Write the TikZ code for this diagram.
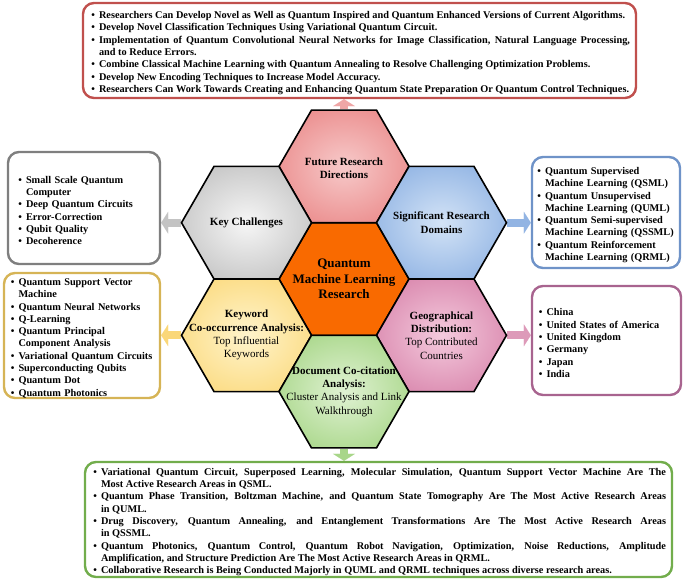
\documentclass[tikz,border=0pt]{standalone}
\usepackage{fontspec}
\setmainfont{Liberation Serif}
\usepackage{enumitem}
\usetikzlibrary{shapes.geometric,arrows.meta,backgrounds}
\setlist[itemize]{nosep,leftmargin=10pt,labelsep=4pt,label=\textbullet}

\definecolor{futin}{HTML}{F7CACA}
\definecolor{futout}{HTML}{E46A6A}
\definecolor{keyin}{HTML}{F6F6F6}
\definecolor{keyout}{HTML}{A9A9A9}
\definecolor{sigin}{HTML}{D3E3F6}
\definecolor{sigout}{HTML}{6E9BDA}
\definecolor{kwin}{HTML}{FFF4CC}
\definecolor{kwout}{HTML}{F9CD58}
\definecolor{geoin}{HTML}{F4CADD}
\definecolor{geoout}{HTML}{CB6494}
\definecolor{docin}{HTML}{E0F2D3}
\definecolor{docout}{HTML}{8BC862}
\definecolor{qmlorange}{HTML}{F96A00}
\definecolor{topred}{HTML}{C0504D}
\definecolor{chalgray}{HTML}{7F7F7F}
\definecolor{kwgold}{HTML}{D6B456}
\definecolor{sigblue}{HTML}{6F93C8}
\definecolor{geoplum}{HTML}{A8648F}
\definecolor{botgreen}{HTML}{72AD4C}

% light centre, darker rim
\newcommand{\hexshade}[3]{\pgfdeclareradialshading{#1}{\pgfpoint{0bp}{0bp}}{color(0bp)=(#2);color(46bp)=(#3);color(50bp)=(#3)}}
\hexshade{shfut}{futin}{futout}
\hexshade{shkey}{keyin}{keyout}
\hexshade{shsig}{sigin}{sigout}
\hexshade{shkw}{kwin}{kwout}
\hexshade{shgeo}{geoin}{geoout}
\hexshade{shdoc}{docin}{docout}

\begin{document}
\begin{tikzpicture}[x=1pt, y=-1pt,
    hexa/.style={regular polygon, regular polygon sides=6, minimum size=130pt, inner sep=0pt, draw=black, line width=1.6pt},
    hexlabel/.style={align=center, inner sep=0pt, font=\fontsize{11}{13.3}\selectfont},
    listbox/.style={rounded corners=11pt, line width=2.4pt, inner sep=0pt, fill=white, font=\fontsize{10.3}{12.3}\selectfont\bfseries},
    flow/.style={line width=8pt, -{Triangle[length=7pt,width=22pt,line width=0.1pt]}}]
    \useasboundingbox (0,0) rectangle (685,582);

    % hexagons
    \node[hexa, fill=qmlorange] (qml) at (344,279) {};
    \node[hexa, shading=shfut] (fut) at (344,166.4) {};
    \node[hexa, shading=shkey] (key) at (246.5,222.7) {};
    \node[hexa, shading=shsig] (sig) at (441.5,222.7) {};
    \node[hexa, shading=shkw] (kw) at (246.5,335.3) {};
    \node[hexa, shading=shgeo] (geo) at (441.5,335.3) {};
    \node[hexa, shading=shdoc] (doc) at (344,391.6) {};

    \node[hexlabel, font=\fontsize{13}{15.5}\selectfont\bfseries] (qmltxt) at (qml) {Quantum\\Machine Learning\\Research};
    \node[hexlabel, font=\fontsize{11}{13.3}\selectfont\bfseries] (futtxt) at (344,168.5) {Future Research\\Directions};
    \node[hexlabel, font=\fontsize{11}{13.3}\selectfont\bfseries] (keytxt) at (key) {Key Challenges};
    \node[hexlabel, font=\fontsize{11}{13.3}\selectfont\bfseries] (sigtxt) at (sig) {Significant Research\\Domains};
    \node[hexlabel] (kwtxt) at (kw) {\textbf{Keyword}\\\textbf{Co-occurrence Analysis:}\\Top Influential\\Keywords};
    \node[hexlabel] (geotxt) at (geo) {\textbf{Geographical}\\\textbf{Distribution:}\\Top Contributed\\Countries};
    \node[hexlabel] (doctxt) at (doc) {\textbf{Document Co-citation}\\\textbf{Analysis:}\\Cluster Analysis and Link\\Walkthrough};

    % boxes
    \node[listbox, draw=topred, minimum width=553pt, minimum height=95pt, text width=541pt, align=justify] (topbox) at (359.5,50.5) {%
      \begin{itemize}
      \item Researchers Can Develop Novel as Well as Quantum Inspired and Quantum Enhanced Versions of Current Algorithms.
      \item Develop Novel Classification Techniques Using Variational Quantum Circuit.
      \item Implementation of Quantum Convolutional Neural Networks for Image Classification, Natural Language Processing,\linebreak and to Reduce Errors.
      \item Combine Classical Machine Learning with Quantum Annealing to Resolve Challenging Optimization Problems.
      \item Develop New Encoding Techniques to Increase Model Accuracy.
      \item Researchers Can Work Towards Creating and Enhancing Quantum State Preparation Or Quantum Control Techniques.
      \end{itemize}};
    \node[listbox, draw=chalgray, minimum width=152pt, minimum height=112pt, text width=136pt, align=left] (chalbox) at (84,208) {%
      \begin{itemize}
      \item Small Scale Quantum\newline Computer
      \item Deep Quantum Circuits
      \item Error-Correction
      \item Qubit Quality
      \item Decoherence
      \end{itemize}};
    \node[listbox, draw=kwgold, minimum width=156pt, minimum height=125pt, text width=147pt, align=left] (kwbox) at (82,335.5) {%
      \begin{itemize}
      \item Quantum Support Vector\newline Machine
      \item Quantum Neural Networks
      \item Q-Learning
      \item Quantum Principal\newline Component Analysis
      \item Variational Quantum Circuits
      \item Superconducting Qubits
      \item Quantum Dot
      \item Quantum Photonics
      \end{itemize}};
    \node[listbox, draw=sigblue, minimum width=148pt, minimum height=111pt, text width=142pt, align=left] (sigbox) at (606,212.5) {%
      \begin{itemize}
      \item Quantum Supervised\newline Machine Learning (QSML)
      \item Quantum Unsupervised\newline Machine Learning (QUML)
      \item Quantum Semi-supervised\newline Machine Learning (QSSML)
      \item Quantum Reinforcement\newline Machine Learning (QRML)
      \end{itemize}};
    \node[listbox, draw=geoplum, minimum width=149pt, minimum height=109pt, text width=140pt, align=left] (geobox) at (606.5,340.5) {%
      \begin{itemize}
      \item China
      \item United States of America
      \item United Kingdom
      \item Germany
      \item Japan
      \item India
      \end{itemize}};
    \node[listbox, draw=botgreen, minimum width=587pt, minimum height=115pt, text width=575pt, align=justify] (botbox) at (378.5,519.5) {%
      \begin{itemize}
      \item Variational Quantum Circuit, Superposed Learning, Molecular Simulation, Quantum Support Vector Machine  Are The\linebreak Most Active Research Areas in QSML.
      \item Quantum Phase Transition, Boltzman Machine, and Quantum State Tomography Are The Most Active Research Areas\linebreak in QUML.
      \item Drug Discovery, Quantum Annealing, and Entanglement Transformations Are The Most Active Research Areas\linebreak in QSSML.
      \item Quantum Photonics, Quantum Control, Quantum Robot Navigation, Optimization, Noise Reductions, Amplitude\linebreak Amplification, and Structure Prediction Are The Most Active Research Areas in QRML.
      \item Collaborative Research is Being Conducted Majorly in QUML and QRML techniques across diverse research areas.
      \end{itemize}};

    % arrows out to the boxes
    \begin{scope}[on background layer]
    \draw[flow, draw=futout!60] (fut.north) -- (fut.north |- topbox.south);
    \draw[flow, draw=keyout!70] (key.west) -- (key.west -| chalbox.east);
    \draw[flow, draw=kwout!80] (kw.west) -- (kw.west -| kwbox.east);
    \draw[flow, draw=sigout!75] (sig.east) -- (sig.east -| sigbox.west);
    \draw[flow, draw=geoout!65] (geo.east) -- (geo.east -| geobox.west);
    \draw[flow, draw=docout!75] (doc.south) -- (doc.south |- botbox.north);
    \end{scope}
\end{tikzpicture}
\end{document}
